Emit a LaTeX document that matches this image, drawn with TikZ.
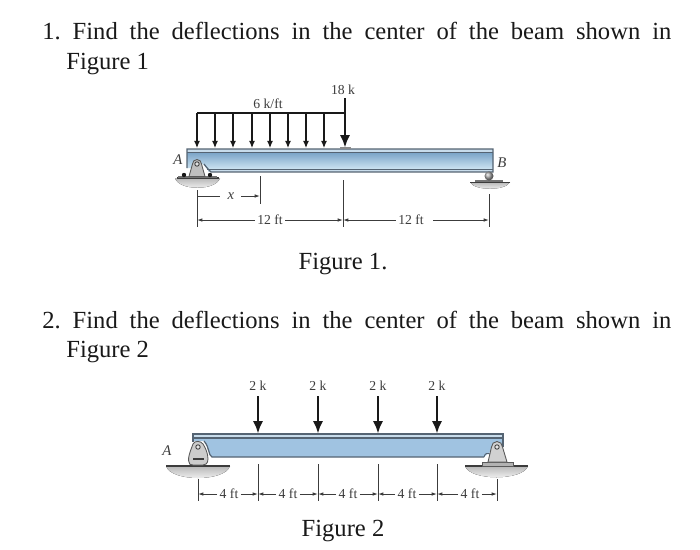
\documentclass[tikz,border=0pt]{standalone}
\usepackage{fontspec}
\setmainfont{Liberation Serif}
\usetikzlibrary{arrows.meta,calc}
\definecolor{ink}{RGB}{25,25,25}
\definecolor{dim}{RGB}{60,60,60}
\definecolor{edge}{RGB}{85,100,115}
\definecolor{beamtop}{RGB}{120,162,198}
\definecolor{beambot}{RGB}{205,228,242}
\definecolor{beamflat}{RGB}{160,195,225}
\definecolor{band}{RGB}{200,220,235}
\newcommand{\just}[1]{\makebox[358pt][s]{\frenchspacing #1}}
\tikzset{
 heading/.style={anchor=base west,inner sep=0,font=\fontsize{14}{16}\selectfont,text=ink},
 caption/.style={anchor=base,inner sep=0,font=\fontsize{14}{16}\selectfont,text=ink},
 small/.style={inner sep=0,font=\fontsize{7.8}{9}\selectfont,text=dim},
 letter/.style={inner sep=0,font=\fontsize{8.4}{9}\selectfont\itshape,text=dim},
 dimtext/.style={inner sep=1.2pt,fill=white,font=\fontsize{7.8}{9}\selectfont,text=dim},
 witness/.style={draw=dim,line width=0.55pt},
 dimline/.style={draw=dim,line width=0.55pt,-{Latex[length=3pt,width=2pt]}},
 udl/.style={draw=ink,line width=0.65pt,-{Latex[length=4pt,width=3.4pt]}},
 force/.style={draw=ink,line width=1.4pt,-{Latex[length=7pt,width=5.8pt]}},
 beamedge/.style={draw=edge,line width=0.7pt},
 ground/.style={draw=dim,line width=0.6pt},
 shade1/.style={top color=black!28,bottom color=white,draw=none},
 metal/.style={fill=black!32,draw=black!65,line width=0.5pt},
}
\begin{document}
\begin{tikzpicture}[x=0.02cm,y=-0.02cm]
\useasboundingbox (0,0) rectangle (700,549);
\fill[white] (0,0) rectangle (700,549);
% text
\node[heading] (h1a) at (42,39) {\just{1. Find the deflections in the center of the beam shown in}};
\node[heading] (h1b) at (66,69) {Figure 1};
\node[caption] (c1) at (343,269) {Figure 1.};
\node[heading] (h2a) at (42,328) {\just{2. Find the deflections in the center of the beam shown in}};
\node[heading] (h2b) at (66,357) {Figure 2};
\node[caption] (c2) at (343,536) {Figure 2};

% ---------- Figure 1 ----------
% ground shadows
\fill[shade1] (175,178) -- (220,178) .. controls (216,191) and (179,191) .. (175,178) -- cycle;
\fill[shade1] (470,182) -- (510,182) .. controls (506,191) and (474,191) .. (470,182) -- cycle;
% beam
\shade[top color=beamtop,bottom color=beambot] (187,152) -- (493,152) -- (493,169) -- (207,169) -- (203,164) -- (192,168) -- (187,168) -- cycle;
\fill[band] (187,149) rectangle (493,152);
\fill[band] (208,169) rectangle (493,172);
\draw[beamedge] (187,168) -- (187,149) -- (493,149) -- (493,172) -- (211,172) .. controls (209,170) and (207,168) .. (204,164);
\draw[edge,line width=0.4pt] (187,152) -- (493,152) (207,169) -- (493,169);
% support A
\draw[ground] (177,178) -- (219,178);
\fill[black!55] (178,176) rectangle (217,178);
\fill[ink] (184,175) circle[radius=2.2] (210,175) circle[radius=2.2];
\draw[metal,fill=black!25] (189,176.5) -- (192.5,164) arc[start angle=180,end angle=360,radius=4.5] -- (205,176.5) -- cycle;
\draw[dim,fill=black!12,line width=0.5pt] (197,164) circle[radius=2.2];
% support B
\fill[black!55] (475,180) rectangle (503,182);
\draw[ground] (470,182.5) -- (510,182.5);
\shade[ball color=black!35] (489,176) circle[radius=4.5];
% distributed load
\coordinate (u0) at (197,113);
\coordinate (uEnd) at (345,113);
\draw[udl,-] (u0) -- (uEnd);
\foreach \i/\xx in {1/197,2/215,3/233,4/252,5/270,6/288,7/306,8/324}{
  \coordinate (ua\i) at (\xx,113);
  \coordinate (ub\i) at (\xx,148);
  \draw[udl] (ua\i) -- (ub\i);
}
\node[small] (l6k) at (268,104) {6 k/ft};
% point load
\fill[black!45] (340,147) rectangle (351,149);
\coordinate (f18a) at (345,98);
\coordinate (f18b) at (345,147.5);
\draw[force] (f18a) -- (f18b);
\node[small] (l18) at (343,90) {18 k};
\node[letter] (lA) at (178,160) {A};
\node[letter] (lB) at (502,163) {B};
% dimensions
\coordinate (w1a) at (197,190); \coordinate (w1b) at (197,227);
\coordinate (w2a) at (260,176); \coordinate (w2b) at (260,204);
\coordinate (w3a) at (343,180); \coordinate (w3b) at (343,227);
\coordinate (w4a) at (489,194); \coordinate (w4b) at (489,227);
\draw[witness] (w1a) -- (w1b);
\draw[witness] (w2a) -- (w2b);
\draw[witness] (w3a) -- (w3b);
\draw[witness] (w4a) -- (w4b);
\node[letter,inner xsep=2pt] (lx) at (231,196) {x};
\draw[witness] (197,196) -- (220,196);
\draw[dimline] (241,196) -- (260,196);
\node[dimtext] (d12a) at (270,220) {12 ft};
\node[dimtext] (d12b) at (411,220) {12 ft};
\draw[dimline] (d12a) -- (197,220);
\draw[dimline] (d12a) -- (343,220);
\draw[dimline] (d12b) -- (343,220);
\draw[dimline] (433,220) -- (489,220);

% ---------- Figure 2 ----------
% shadows
\fill[shade1] (166,466) -- (230,466) .. controls (225,482) and (171,482) .. (166,466) -- cycle;
\fill[shade1] (465,466) -- (528,466) .. controls (523,481) and (470,481) .. (465,466) -- cycle;
% beam
\fill[beamflat] (193,438) -- (503,438) -- (503,447) -- (490,452) -- (484,457) -- (212,457) .. controls (208,455) and (210,448) .. (204,441) -- (193,441) -- cycle;
\fill[band] (193,434) rectangle (503,438);
\draw[beamedge] (193,434) rectangle (503,438);
\draw[beamedge] (193,438) -- (193,442);
\draw[beamedge] (503,438) -- (503,447);
\draw[beamedge] (484,457) -- (212,457) .. controls (208,455) and (210,448) .. (204,441);
% support A
\draw[ground] (166,466) -- (230,466);
\draw[metal,fill=black!20] (189,462) .. controls (187,458) and (192,447) .. (193,444) .. controls (195,440) and (201,441) .. (203,444) .. controls (205,447) and (208,453) .. (208,459) .. controls (208,464) and (205,465) .. (203,465) -- (193,465) .. controls (190,465) and (189,464) .. (189,462) -- cycle;
\draw[dim,fill=black!10,line width=0.5pt] (198,447) circle[radius=2.2];
\draw[dim,line width=0.6pt] (193,459) -- (204,459);
% support B
\draw[ground] (465,466) -- (528,466);
\draw[metal,fill=black!30] (482,466) rectangle (513,462);
\draw[metal,fill=black!18] (488,462) -- (491.5,447) arc[start angle=180,end angle=360,radius=5.5] -- (507,462) -- cycle;
\draw[dim,fill=black!10,line width=0.5pt] (497,447) circle[radius=2.2];
\draw[edge,line width=0.5pt] (484,457) .. controls (485,453) and (487,453) .. (490,454);
% forces and labels
\foreach \i/\xx in {1/258,2/318,3/378,4/437}{
  \coordinate (fa\i) at (\xx,396);
  \coordinate (fb\i) at (\xx,433.5);
  \draw[force] (fa\i) -- (fb\i);
  \node[small] (k\i) at (\xx,386) {2 k};
  \coordinate (wa\i) at (\xx,464);
  \coordinate (wb\i) at (\xx,501);
  \draw[witness] (wa\i) -- (wb\i);
}
\node[letter] (lA2) at (167,451) {A};
% dimensions
\coordinate (e1a) at (198,479); \coordinate (e1b) at (198,501);
\coordinate (e2a) at (497,479); \coordinate (e2b) at (497,501);
\draw[witness] (e1a) -- (e1b);
\draw[witness] (e2a) -- (e2b);
\foreach \n/\cx/\xl/\xr in {1/229/198/258,2/288/258/318,3/348/318/378,4/407/378/437,5/470/437/497}{
  \node[dimtext] (t\n) at (\cx,494) {4 ft};
  \draw[dimline] (t\n) -- (\xl,494);
  \draw[dimline] (t\n) -- (\xr,494);
}
\end{tikzpicture}
\end{document}
